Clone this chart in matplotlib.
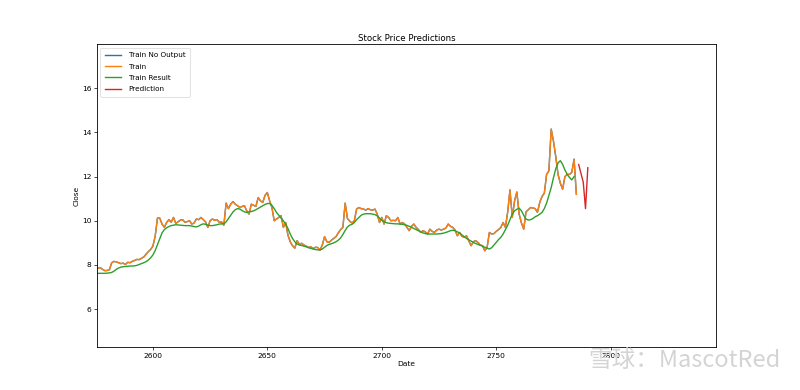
import numpy as np
import matplotlib
matplotlib.use("Agg")
import matplotlib.pyplot as plt

# closing prices used for training (one value per date index)
train_start = 2576
train_close = [
    7.85, 7.88, 7.80, 7.74, 7.75, 7.78, 8.10, 8.16, 8.14, 8.10,
    8.06, 8.08, 8.02, 8.12, 8.10, 8.16, 8.20, 8.25, 8.24, 8.30,
    8.36, 8.48, 8.60, 8.70, 8.85, 9.30, 10.12, 10.12, 9.85, 9.70,
    9.92, 10.05, 9.93, 10.15, 9.88, 9.95, 10.03, 10.05, 9.93, 9.96,
    10.00, 9.85, 9.90, 10.08, 10.05, 10.15, 10.05, 9.95, 9.70, 10.00,
    10.08, 10.02, 10.05, 9.93, 9.95, 9.80, 10.80, 10.55, 10.75, 10.87,
    10.75, 10.68, 10.60, 10.65, 10.68, 10.45, 10.30, 10.75, 10.70, 10.65,
    11.05, 10.90, 10.83, 11.15, 11.28, 10.90, 10.60, 10.00, 10.08, 10.15,
    10.23, 9.70, 9.92, 9.35, 9.05, 8.87, 8.76, 9.10, 8.93, 8.98,
    8.90, 8.85, 8.79, 8.82, 8.74, 8.80, 8.79, 8.67, 8.90, 9.28,
    9.05, 9.02, 9.12, 9.20, 9.28, 9.45, 9.60, 9.70, 10.80, 10.10,
    9.98, 9.90, 10.00, 10.53, 10.60, 10.55, 10.53, 10.48, 10.55, 10.50,
    10.48, 10.53, 10.30, 9.92, 10.15, 9.85, 10.23, 10.15, 10.00, 10.02,
    10.00, 10.15, 9.85, 9.92, 9.85, 9.70, 9.55, 9.75, 9.85, 9.70,
    9.60, 9.47, 9.55, 9.50, 9.40, 9.62, 9.52, 9.47, 9.58, 9.62,
    9.58, 9.62, 9.67, 9.85, 9.75, 9.70, 9.58, 9.32, 9.47, 9.30,
    9.25, 9.32, 9.10, 8.87, 9.05, 9.10, 9.02, 8.90, 8.87, 8.64,
    8.79, 9.47, 9.40, 9.42, 9.52, 9.60, 9.70, 9.92, 9.70, 10.40,
    11.40, 10.15, 10.90, 11.30, 10.30, 9.90, 9.62, 10.40, 10.50, 10.60,
    10.58, 10.55, 10.38, 10.83, 11.10, 11.25, 12.10, 12.26, 14.15, 13.60,
    12.90, 12.10, 11.70, 11.43, 12.00, 12.10, 12.10, 12.19, 12.79, 11.20,
]

# model output on the training window
result_start = 2576
train_result = [
    7.62, 7.62, 7.62, 7.62, 7.63, 7.64, 7.66, 7.72, 7.80, 7.86,
    7.90, 7.92, 7.93, 7.94, 7.95, 7.95, 7.96, 7.98, 8.02, 8.06,
    8.10, 8.15, 8.22, 8.32, 8.45, 8.65, 8.92, 9.20, 9.45, 9.60,
    9.68, 9.74, 9.78, 9.80, 9.82, 9.81, 9.80, 9.79, 9.78, 9.78,
    9.78, 9.76, 9.74, 9.72, 9.76, 9.82, 9.86, 9.84, 9.80, 9.78,
    9.78, 9.80, 9.82, 9.85, 9.86, 9.86, 9.95, 10.10, 10.25, 10.40,
    10.50, 10.55, 10.53, 10.46, 10.40, 10.38, 10.40, 10.42, 10.45, 10.50,
    10.56, 10.62, 10.68, 10.74, 10.78, 10.78, 10.70, 10.55, 10.38, 10.25,
    10.12, 10.00, 9.85, 9.65, 9.40, 9.20, 9.05, 8.95, 8.90, 8.88,
    8.85, 8.82, 8.78, 8.75, 8.72, 8.70, 8.68, 8.68, 8.72, 8.80,
    8.88, 8.93, 8.96, 9.00, 9.05, 9.12, 9.22, 9.38, 9.56, 9.72,
    9.80, 9.84, 9.92, 10.05, 10.15, 10.25, 10.30, 10.32, 10.32, 10.32,
    10.30, 10.28, 10.22, 10.12, 10.02, 9.95, 9.91, 9.89, 9.88, 9.87,
    9.86, 9.86, 9.85, 9.84, 9.82, 9.79, 9.75, 9.70, 9.65, 9.60,
    9.55, 9.50, 9.45, 9.42, 9.40, 9.40, 9.40, 9.40, 9.40, 9.41,
    9.42, 9.44, 9.47, 9.51, 9.55, 9.57, 9.55, 9.50, 9.44, 9.36,
    9.28, 9.20, 9.14, 9.08, 9.02, 8.97, 8.93, 8.89, 8.85, 8.80,
    8.76, 8.72, 8.78, 8.90, 9.02, 9.15, 9.25, 9.40, 9.60, 9.80,
    10.05, 10.30, 10.45, 10.52, 10.57, 10.45, 10.25, 10.08, 10.03, 10.05,
    10.10, 10.18, 10.23, 10.30, 10.38, 10.55, 10.80, 11.15, 11.50, 11.95,
    12.35, 12.62, 12.72, 12.55, 12.30, 12.10, 11.96, 11.85, 12.00,
]

# forecast after the training window
pred_dates = [2786, 2787, 2788, 2789, 2790]
pred_close = [12.55, 12.15, 11.75, 10.55, 12.40]

train_dates = np.arange(train_start, train_start + len(train_close))
result_dates = np.arange(result_start, result_start + len(train_result))

plt.rcParams["font.family"] = ["DejaVu Sans"]
fig = plt.figure(figsize=(8, 3.9), dpi=100)
ax = fig.add_subplot(111)
fig.subplots_adjust(left=0.121, right=0.895, top=0.887, bottom=0.11)

lw = 1.0
ax.plot(train_dates, train_close, color="#1f77b4", lw=lw, label="Train No Output")
ax.plot(train_dates, train_close, color="#ff7f0e", lw=lw, label="Train")
ax.plot(result_dates, train_result, color="#2ca02c", lw=lw, label="Train Result")
ax.plot(pred_dates, pred_close, color="#d62728", lw=lw, label="Prediction")

ax.set_xlim(2575.5, 2846)
ax.set_ylim(4.28, 18.0)
ax.set_xticks([2600, 2650, 2700, 2750, 2800])
ax.set_yticks([6, 8, 10, 12, 14, 16])
ax.tick_params(labelsize=5.4, length=2, width=0.5, pad=2)
for s in ax.spines.values():
    s.set_linewidth(0.6)

ax.set_title("Stock Price Predictions", fontsize=6.2, pad=2.5)
ax.set_xlabel("Date", fontsize=5.4, labelpad=1.5)
ax.set_ylabel("Close", fontsize=5.4, labelpad=1.5)
leg = ax.legend(loc="upper left", fontsize=5.2, handlelength=2.3, handletextpad=1.0,
                borderpad=0.6, labelspacing=0.75, framealpha=0.8)
leg.get_frame().set_linewidth(0.5)

# watermark
fig.text(0.975, 0.075, "雪球：MascotRed", ha="right", va="center", fontsize=17,
         color="#d4d4d4", family=["Noto Sans CJK SC", "DejaVu Sans"], zorder=10)

fig.savefig("out.png", dpi=100)
